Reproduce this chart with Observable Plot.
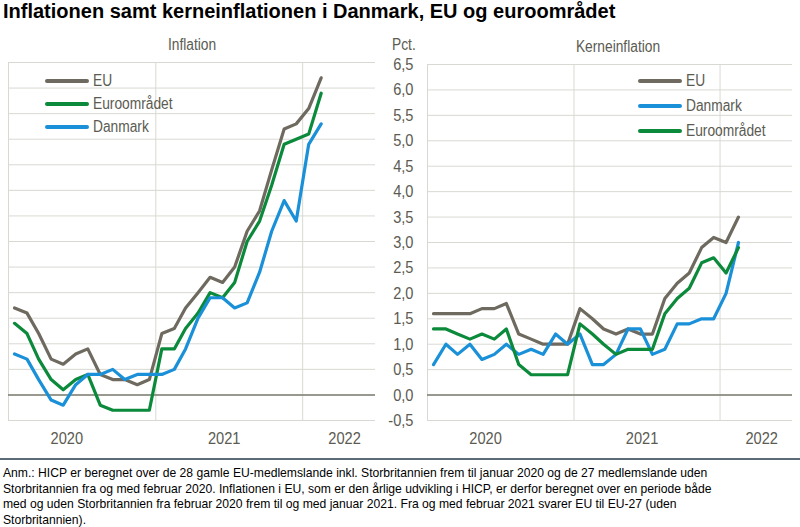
<!DOCTYPE html>
<html><head><meta charset="utf-8">
<script src="https://cdn.jsdelivr.net/npm/d3@7"></script>
<script src="https://cdn.jsdelivr.net/npm/@observablehq/plot@0.6"></script>
<style>
html,body{margin:0;padding:0;background:#fff}
body{width:800px;height:527px;overflow:hidden;position:relative;font-family:"Liberation Sans",Arial,sans-serif}
.abs{position:absolute;white-space:nowrap}
.narrow{font-family:"Liberation Sans Narrow","Arial Narrow","Liberation Sans",sans-serif;color:#5b5b52;font-size:16px;line-height:16px;transform-origin:left center;transform:scaleX(0.86)}
.center{transform-origin:center center;transform:translateX(-50%) scaleX(0.86)}
#title{left:3px;top:0px;font-size:20px;font-weight:bold;color:#000;line-height:22px}
#sep{position:absolute;left:0;top:458px;width:800px;height:2px;background:#5b6b78}
#caption{position:absolute;left:3px;top:466px;font-size:12.15px;line-height:15.5px;color:#000;white-space:nowrap}
.sw{position:absolute;height:4px;border-radius:2px;width:44px}
</style></head>
<body>
<div id="title" class="abs">Inflationen samt kerneinflationen i Danmark, EU og euroområdet</div>
<div id="left" class="abs" style="left:0;top:30px"></div>
<div id="right" class="abs" style="left:380px;top:30px"></div>
<div class="abs narrow center" style="left:192px;top:37px">Inflation</div>
<div class="abs narrow center" style="left:618px;top:39px">Kerneinflation</div>
<div class="abs narrow" style="left:392px;top:37px">Pct.</div>
<div id="legL"></div>
<div id="legR"></div>
<div id="sep"></div>
<div id="caption">Anm.: HICP er beregnet over de 28 gamle EU-medlemslande inkl. Storbritannien frem til januar 2020 og de 27 medlemslande uden<br>Storbritannien fra og med februar 2020. Inflationen i EU, som er den årlige udvikling i HICP, er derfor beregnet over en periode både<br>med og uden Storbritannien fra februar 2020 frem til og med januar 2021. Fra og med februar 2021 svarer EU til EU-27 (uden<br>Storbritannien).</div>
<script>
// ---- data ----
const months = ["2020-01","2020-02","2020-03","2020-04","2020-05","2020-06","2020-07","2020-08","2020-09","2020-10","2020-11","2020-12",
  "2021-01","2021-02","2021-03","2021-04","2021-05","2021-06","2021-07","2021-08","2021-09","2021-10","2021-11","2021-12",
  "2022-01","2022-02"];
// Inflation (HICP, år-til-år, pct.)
const inflEU   = [1.7,1.6,1.2,0.7,0.6,0.8,0.9,0.4,0.3,0.3,0.2,0.3, 1.2,1.3,1.7,2.0,2.3,2.2,2.5,3.2,3.6,4.4,5.2,5.3, 5.6,6.2];
const inflEuro = [1.4,1.2,0.7,0.3,0.1,0.3,0.4,-0.2,-0.3,-0.3,-0.3,-0.3, 0.9,0.9,1.3,1.6,2.0,1.9,2.2,3.0,3.4,4.1,4.9,5.0, 5.1,5.9];
const inflDK   = [0.8,0.7,0.3,-0.1,-0.2,0.2,0.4,0.4,0.5,0.3,0.4,0.4, 0.4,0.5,0.9,1.5,1.9,1.9,1.7,1.8,2.4,3.2,3.8,3.4, 4.9,5.3];
// Kerneinflation
const coreEU   = [1.6,1.6,1.6,1.6,1.7,1.7,1.8,1.2,1.1,1.0,1.0,1.0, 1.7,1.5,1.3,1.2,1.3,1.2,1.2,1.9,2.2,2.4,2.9,3.1, 3.0,3.5];
const coreDK   = [0.6,1.0,0.8,1.0,0.7,0.8,1.0,0.8,0.9,0.8,1.2,1.0, 1.2,0.6,0.6,0.8,1.3,1.3,0.8,0.9,1.4,1.4,1.5,1.5, 2.0,3.0];
const coreEuro = [1.3,1.3,1.2,1.1,1.2,1.1,1.3,0.6,0.4,0.4,0.4,0.4, 1.4,1.2,1.0,0.8,0.9,0.9,0.9,1.6,1.9,2.1,2.6,2.7, 2.4,2.9];
const yTicks = [-0.5,0,0.5,1,1.5,2,2.5,3,3.5,4,4.5,5,5.5,6,6.5];
const yearLabels = ["2020","2021","2022"];
const yearLabelDates = ["2020-05-25","2021-06-20","2022-04-15"];
const yearStarts = ["2021-01-01","2022-01-01"];
const xStart = "2020-01-01", xEnd = "2022-07-01";

// ---- styling ----
const C = {EU:"#6e6a5f", Euro:"#0b8a3b", DK:"#1a90d8"};
const grid = "#d9d9d3", textColor = "#5b5b52";
const narrow = '"Liberation Sans Narrow","Arial Narrow","Liberation Sans",sans-serif';
const squeeze = 0.86;

const parse = d3.utcParse("%Y-%m-%d");
const mid = m => parse(m + "-16");

function panel(series, {width, marginLeft, marginRight, marginTop, yAxis}) {
  const marks = [
    Plot.gridY(yTicks, {stroke: grid, strokeOpacity: 1}),
    Plot.ruleX(yearStarts.map(parse), {stroke: grid, strokeWidth: 1}),
    Plot.ruleX([parse(xStart)], {stroke: grid, strokeWidth: 1}),
    Plot.ruleY([0], {stroke: "#7d7c72", strokeWidth: 1.5}),
    Plot.text(yearLabels, {x: (d, i) => parse(yearLabelDates[i]), text: d => d, frameAnchor: "bottom", dy: 23, fontSize: 17, fill: textColor}),
    ...series.map(s => Plot.line(s.values.map((v, i) => ({date: mid(months[i]), value: v})),
      {x: "date", y: "value", stroke: s.color, strokeWidth: 3.2, strokeLinejoin: "round"}))
  ];
  if (yAxis) marks.push(Plot.axisY(yTicks, {tickSize: 0, tickPadding: 14, fontSize: 17, fill: textColor,
    tickFormat: d => d.toFixed(1).replace(".", ","), label: null}));
  return Plot.plot({
    width, height: 425, marginTop, marginBottom: 35, marginLeft, marginRight,
    x: {type: "utc", domain: [parse(xStart), parse(xEnd)], axis: null},
    y: {domain: [-0.5, 6.5], axis: yAxis ? undefined : null},
    style: {fontFamily: narrow, overflow: "visible", background: "transparent"},
    marks
  });
}

function condense(svg) {
  svg.querySelectorAll("text").forEach(t => {
    const L = t.getComputedTextLength();
    if (L > 0) { t.setAttribute("textLength", L * squeeze); t.setAttribute("lengthAdjust", "spacingAndGlyphs"); }
  });
}

const leftSeries = [
  {name: "EU", values: inflEU, color: C.EU},
  {name: "Euroområdet", values: inflEuro, color: C.Euro},
  {name: "Danmark", values: inflDK, color: C.DK}
];
const rightSeries = [
  {name: "EU", values: coreEU, color: C.EU},
  {name: "Danmark", values: coreDK, color: C.DK},
  {name: "Euroområdet", values: coreEuro, color: C.Euro}
];

const L = panel(leftSeries, {width: 380, marginLeft: 8, marginRight: 5, marginTop: 32, yAxis: false});
const R = panel(rightSeries, {width: 420, marginLeft: 47, marginRight: 8, marginTop: 34, yAxis: true});
document.getElementById("left").append(L);
document.getElementById("right").append(R);
condense(L); condense(R);

function legend(el, series, x, ys) {
  series.forEach((s, i) => {
    const sw = document.createElement("div");
    sw.className = "sw";
    sw.style.left = x + "px"; sw.style.top = (ys[i] - 2) + "px"; sw.style.background = s.color;
    el.append(sw);
    const t = document.createElement("div");
    t.className = "abs narrow";
    t.style.left = (x + 48) + "px"; t.style.top = (ys[i] - 8) + "px";
    t.textContent = s.name;
    el.append(t);
  });
}
legend(document.getElementById("legL"), leftSeries, 45, [81, 104, 127]);
legend(document.getElementById("legR"), rightSeries, 638, [81, 106, 131]);
</script>
</body></html>
